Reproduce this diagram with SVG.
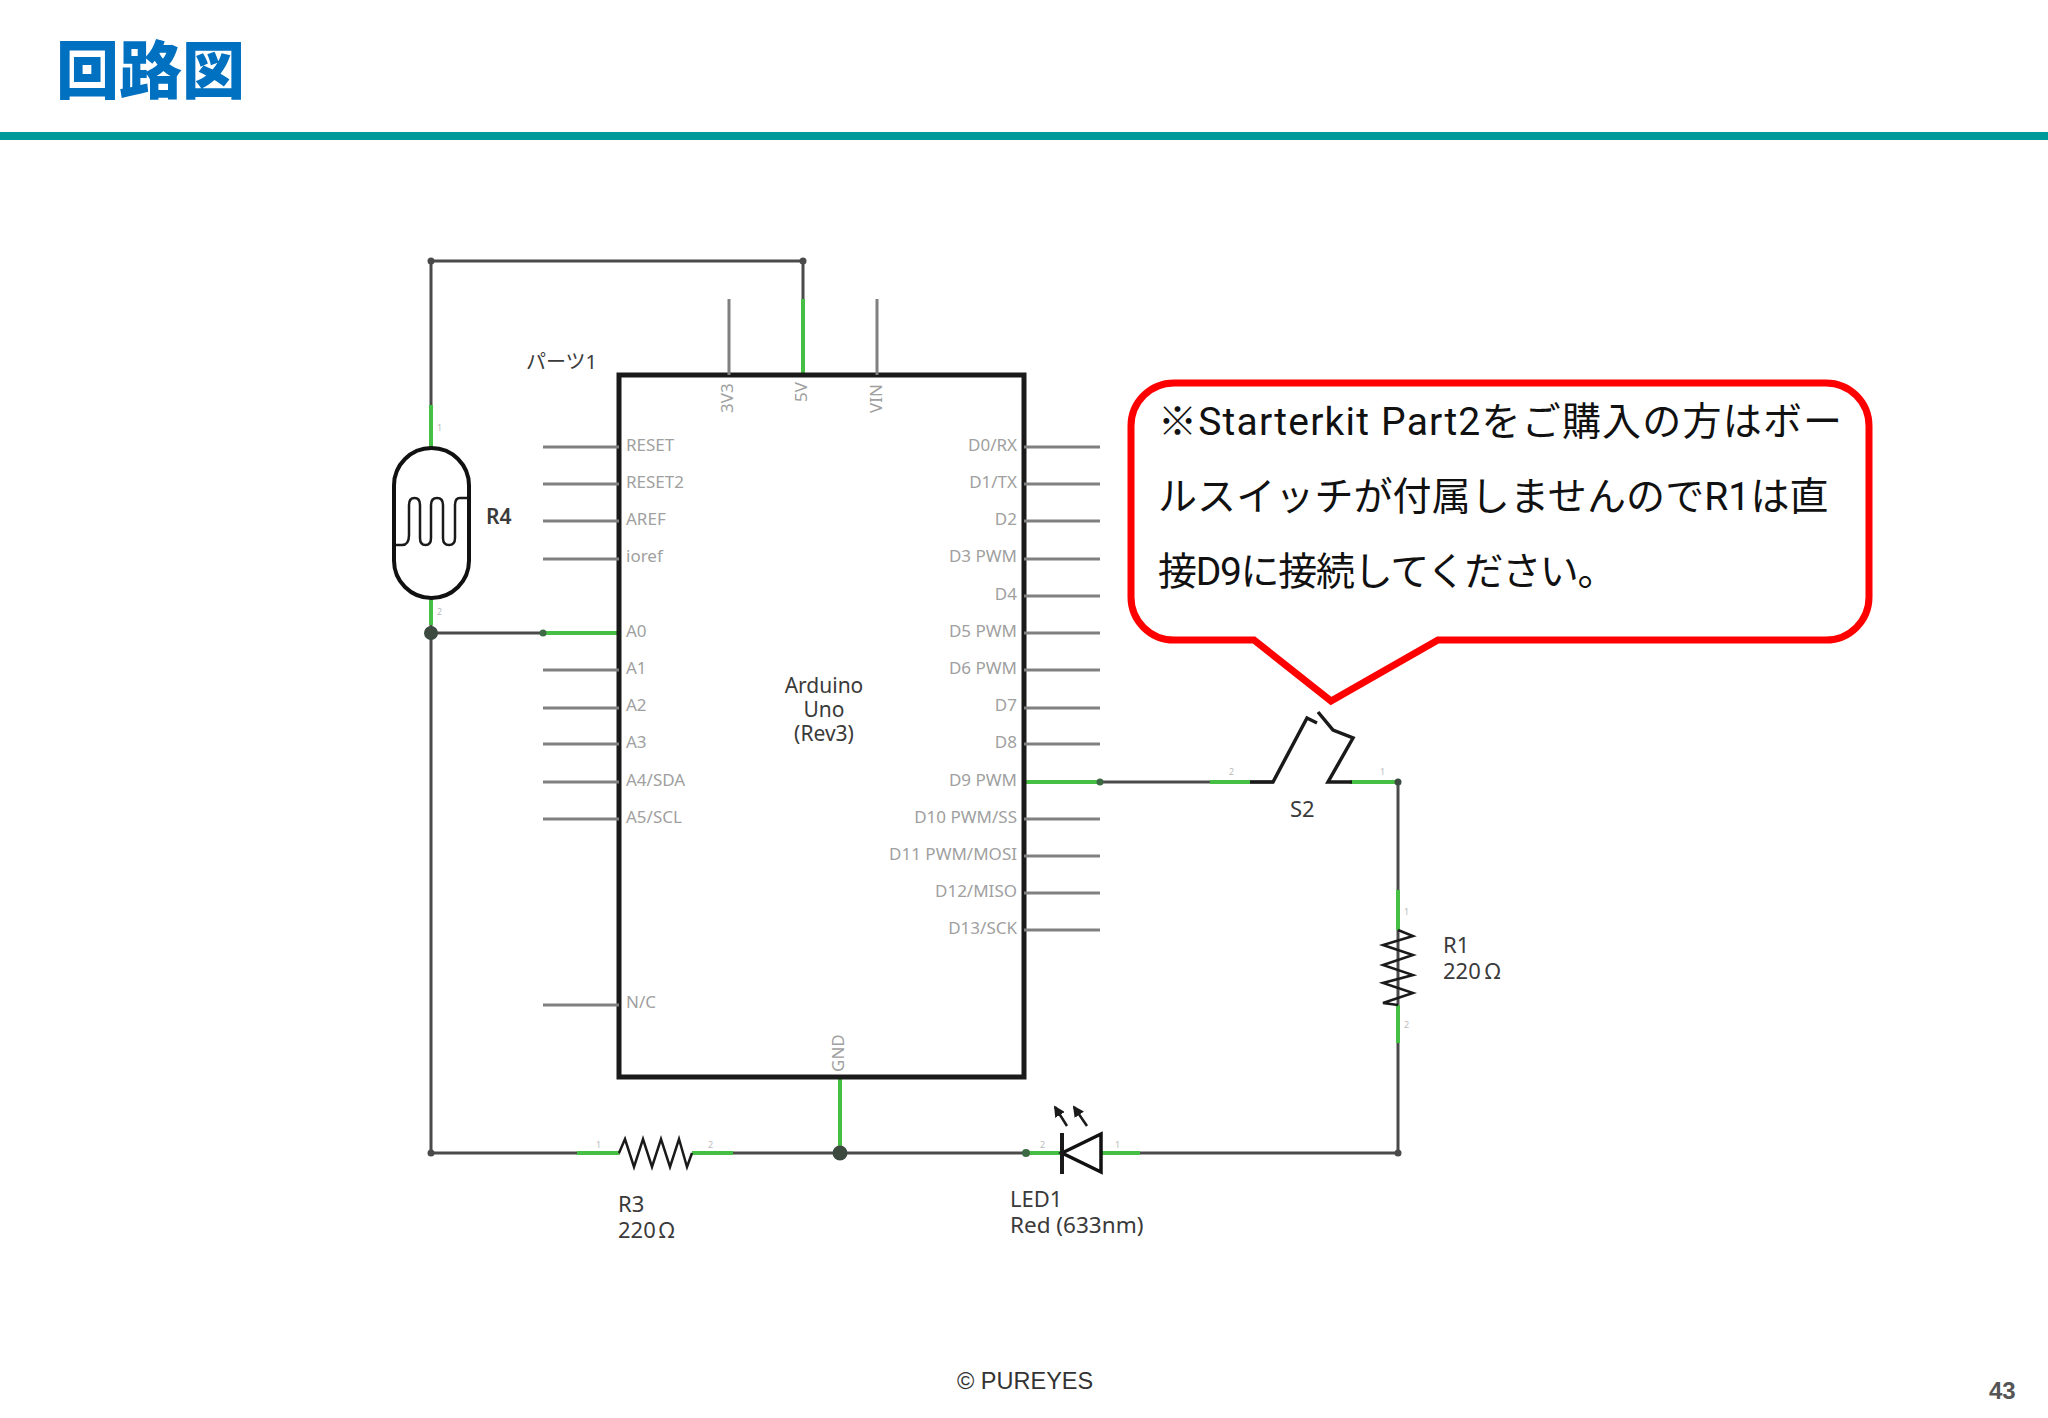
<svg xmlns="http://www.w3.org/2000/svg" width="2048" height="1418" viewBox="0 0 2048 1418">
<style>
.w{stroke:#4a4a4a;stroke-width:3;fill:none}
.g{stroke:#45c045;stroke-width:4;fill:none}
.p{stroke:#808080;stroke-width:3;fill:none}
.k{stroke:#1a1a1a;stroke-width:2.500;fill:none}
.t{font-family:"Noto Sans","Noto Sans CJK JP",sans-serif;fill:#3a3a3a;font-size:22px}
.l{font-family:"Noto Sans",sans-serif;fill:#a0a0a0;font-size:17px}
.n{font-family:"Noto Sans",sans-serif;fill:#bbb;font-size:9px}
.e{text-anchor:end}
.c{font-family:"Roboto","Noto Sans CJK JP",sans-serif;fill:#111;font-size:39px}
</style>
<defs>
<marker id="ah" viewBox="0 0 6 6" markerWidth="4.500" markerHeight="4.500" refX="5" refY="3" orient="auto"><path d="M0 0L6 3L0 6Z" fill="#1a1a1a"/></marker>
</defs>
<rect width="2048" height="1418" fill="#fff"/>
<g id="header">
<text x="56" y="93" font-family="'Noto Sans CJK JP',sans-serif" font-weight="900" font-size="63" fill="#0070c0">回路図</text>
<rect x="0" y="132" width="2048" height="8" fill="#009a9a"/>
</g>
<g id="connectors">
<path class="w" d="M431 447V261H803V300M431 598V1153H620M692 1153H1062M1101 1153H1398V782H1353M1273 782H1024M431 633H619"/>
<path class="g" d="M803 299V375M431 405V447M431 598V625M543 633H619M840 1077V1153M577 1153H619M692 1153H733M1026 1153H1062M1101 1153H1140M1210 782H1250M1350 782H1398M1024 782H1100M1398 890V930M1398 1005V1043"/>
<circle cx="431" cy="633" r="7" fill="#3d4a40"/>
<circle cx="431" cy="261" r="3.500" fill="#4a4a4a"/>
<circle cx="803" cy="261" r="3.500" fill="#4a4a4a"/>
<circle cx="543" cy="633" r="3.500" fill="#3d6a45"/>
<circle cx="431" cy="1153" r="3.500" fill="#4a4a4a"/>
<circle cx="840" cy="1153" r="7.500" fill="#3d4a40"/>
<circle cx="1026" cy="1153" r="4" fill="#3d6a45"/>
<circle cx="1100" cy="782" r="3.500" fill="#3d6a45"/>
<circle cx="1398" cy="782" r="3.500" fill="#3d4a40"/>
<circle cx="1398" cy="1153" r="3.500" fill="#4a4a4a"/>
</g>
<g id="arduino">
<rect x="619" y="375" width="405" height="702" fill="#fff" stroke="#1a1a1a" stroke-width="5"/>
<path class="p" d="M729 299V375M877 299V375M543 447H619M543 484H619M543 521H619M543 559H619M543 670H619M543 708H619M543 744H619M543 782H619M543 819H619M543 1005H619M1024 447H1100M1024 484H1100M1024 521H1100M1024 559H1100M1024 596H1100M1024 633H1100M1024 670H1100M1024 708H1100M1024 744H1100M1024 819H1100M1024 856H1100M1024 893H1100M1024 930H1100"/>
<text class="l" transform="translate(733 413) rotate(-90)">3V3</text>
<text class="l" transform="translate(807 402) rotate(-90)">5V</text>
<text class="l" transform="translate(882 413) rotate(-90)">VIN</text>
<text class="l" transform="translate(844 1072) rotate(-90)">GND</text>
<text class="l" x="626" y="451">RESET</text>
<text class="l" x="626" y="488">RESET2</text>
<text class="l" x="626" y="525">AREF</text>
<text class="l" x="626" y="562">ioref</text>
<text class="l" x="626" y="637">A0</text>
<text class="l" x="626" y="674">A1</text>
<text class="l" x="626" y="711">A2</text>
<text class="l" x="626" y="748">A3</text>
<text class="l" x="626" y="786">A4/SDA</text>
<text class="l" x="626" y="823">A5/SCL</text>
<text class="l" x="626" y="1008">N/C</text>
<text class="l e" x="1017" y="451">D0/RX</text>
<text class="l e" x="1017" y="488">D1/TX</text>
<text class="l e" x="1017" y="525">D2</text>
<text class="l e" x="1017" y="562">D3 PWM</text>
<text class="l e" x="1017" y="600">D4</text>
<text class="l e" x="1017" y="637">D5 PWM</text>
<text class="l e" x="1017" y="674">D6 PWM</text>
<text class="l e" x="1017" y="711">D7</text>
<text class="l e" x="1017" y="748">D8</text>
<text class="l e" x="1017" y="786">D9 PWM</text>
<text class="l e" x="1017" y="823">D10 PWM/SS</text>
<text class="l e" x="1017" y="860">D11 PWM/MOSI</text>
<text class="l e" x="1017" y="897">D12/MISO</text>
<text class="l e" x="1017" y="934">D13/SCK</text>
<text class="t" x="824" y="693" text-anchor="middle" style="font-size:21px">Arduino</text>
<text class="t" x="824" y="717" text-anchor="middle" style="font-size:21px">Uno</text>
<text class="t" x="824" y="741" text-anchor="middle" style="font-size:21px">(Rev3)</text>
<text class="t" x="526" y="369" style="font-size:20px">パーツ1</text>
</g>
<g id="R4">
<rect x="394" y="448" width="75" height="150" rx="37.500" fill="#fff" stroke="#111" stroke-width="4"/>
<path class="k" d="M396 545H402Q409 545 409 535V505Q409 498 414.500 498Q420 498 420 505V538Q420 545 425.500 545Q431 545 431 538V505Q431 498 437 498Q443 498 443 505V538Q443 545 449 545Q455 545 455 538V505Q455 498 460 498H468"/>
<text class="t" x="486" y="524" style="font-size:21px" font-weight="600">R4</text>
<text class="n" x="437" y="431">1</text>
<text class="n" x="437" y="615">2</text>
</g>
<g id="R3">
<path class="k" d="M619 1153L625 1139L634 1167L643 1139L652 1167L661 1139L670 1167L679 1139L687 1167L692 1153"/>
<text class="t" x="618" y="1212">R3</text>
<text class="t" x="618" y="1238">220<tspan dx="3">Ω</tspan></text>
<text class="n" x="596" y="1148">1</text>
<text class="n" x="708" y="1148">2</text>
</g>
<g id="LED1">
<path d="M1062 1153L1101 1134V1172Z" fill="none" stroke="#111" stroke-width="3.500"/>
<path class="k" d="M1062 1133V1174" style="stroke-width:4"/>
<path class="k" d="M1067 1126L1055 1107" marker-end="url(#ah)"/>
<path class="k" d="M1087 1126L1074 1107" marker-end="url(#ah)"/>
<text class="t" x="1010" y="1207">LED1</text>
<text class="t" x="1010" y="1233" style="font-size:22.500px">Red (633nm)</text>
<text class="n" x="1040" y="1148">2</text>
<text class="n" x="1115" y="1148">1</text>
</g>
<g id="S2">
<path class="k" d="M1250 782H1273L1307 718L1317 723" style="stroke-width:3.500"/>
<path class="k" d="M1318 712L1333 730L1353 738L1328 782H1352" style="stroke-width:3.500"/>
<text class="t" x="1290" y="817">S2</text>
<text class="n" x="1229" y="775">2</text>
<text class="n" x="1380" y="775">1</text>
</g>
<g id="R1">
<path class="k" d="M1398 930L1413 936L1383 945L1413 955L1383 965L1413 975L1383 983L1413 993L1383 1003L1398 1005"/>
<text class="t" x="1443" y="953">R1</text>
<text class="t" x="1443" y="979">220<tspan dx="4">Ω</tspan></text>
<text class="n" x="1404" y="915">1</text>
<text class="n" x="1404" y="1028">2</text>
</g>
<g id="callout">
<path d="M1174 383H1826A43 43 0 0 1 1869 426V597A43 43 0 0 1 1826 640H1438L1331 701L1254 640H1174A43 43 0 0 1 1131 597V426A43 43 0 0 1 1174 383Z" fill="#fff" stroke="#ff0000" stroke-width="7"/>
<text class="c" x="1158" y="435" letter-spacing="1.200">※Starterkit Part2をご購入の方はボー</text>
<text class="c" x="1158" y="510" letter-spacing="0.100">ルスイッチが付属しませんのでR1は直</text>
<text class="c" x="1158" y="585" letter-spacing="-1.300">接D9に接続してください。</text>
</g>
<g id="footer">
<text x="957" y="1389" font-family="'Liberation Sans',sans-serif" font-size="23.500" fill="#333">© PUREYES</text>
<text x="1989" y="1399" font-family="'Liberation Sans',sans-serif" font-size="24" font-weight="700" fill="#555">43</text>
</g>
</svg>
